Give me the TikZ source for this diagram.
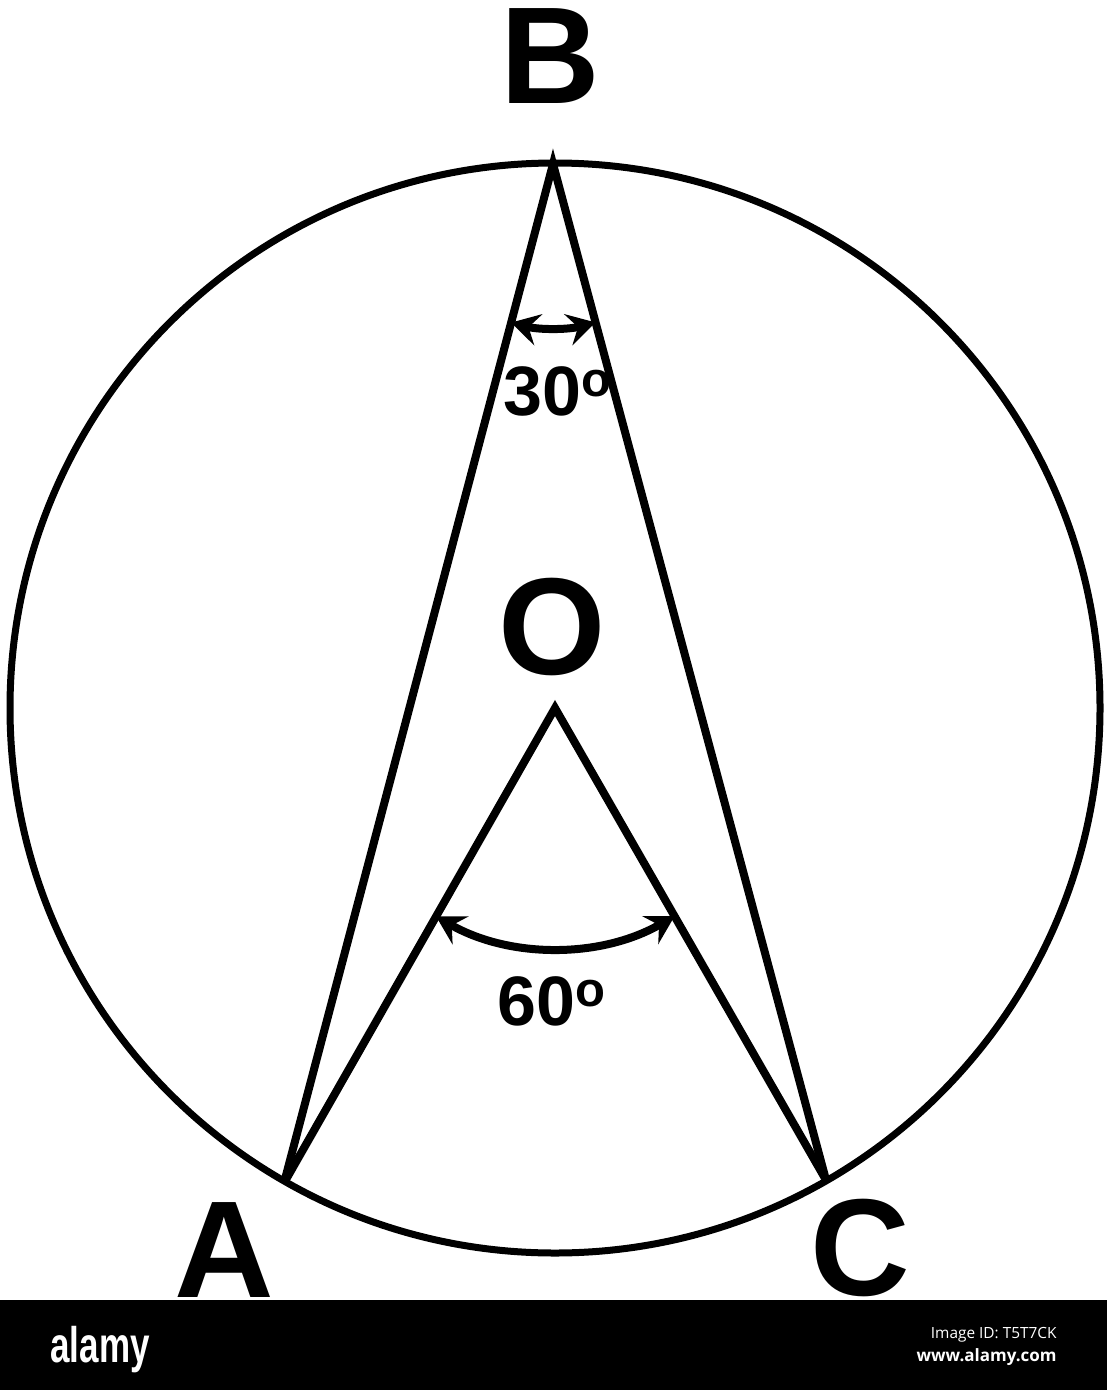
\documentclass[tikz,border=0pt]{standalone}
\usepackage{fontspec}
\setmainfont{Liberation Sans}
\newfontfamily\barfont{Open Sans}
\usetikzlibrary{arrows.meta}

\newlength{\du}
\setlength{\du}{0.5pt}

\tikzset{
  rim/.style={line width=7\du},
  chord/.style={line width=8\du, miter limit=10},
  anglearrow/.style={line width=8\du,
    {Stealth[length=14pt,width=16pt,inset=5pt]}-{Stealth[length=14pt,width=16pt,inset=5pt]}},
  ptlabel/.style={font=\bfseries\fontsize{69}{69}\selectfont, inner sep=0pt, anchor=base},
  deglabel/.style={font=\bfseries\fontsize{35}{35}\selectfont, inner sep=0pt, anchor=base},
}

\begin{document}
\begin{tikzpicture}
\pgftransformxscale{1.000000}
\pgftransformyscale{-1.000000}
\useasboundingbox (0\du,0\du) rectangle (1107\du,1390\du);
% points on the circle
\coordinate (ctr) at (555\du,708\du);
\coordinate (B) at (553\du,164\du);
\coordinate (A) at (284\du,1183\du);
\coordinate (C) at (826\du,1180\du);
\coordinate (O) at (555\du,708\du);
\draw[rim] (ctr) circle[radius=545\du];
\draw[chord] (A)--(B)--(C);
\draw[chord] (A)--(O)--(C);
% angle marks
\draw[anglearrow] (B) ++(104.8:164\du) arc[start angle=104.8, end angle=75.0, radius=164\du];
\draw[anglearrow] (O) ++(119.7:240\du) arc[start angle=119.7, end angle=60.1, radius=240\du];
\node[deglabel] (deg30) at (558\du,415\du){30\textsuperscript{o}};
\node[deglabel] (deg60) at (552\du,1025\du){60\textsuperscript{o}};
% letters
\node[ptlabel] (labB) at (550\du,104\du){B};
\node[ptlabel] (labO) at (552\du,674\du){O};
\node[ptlabel] (labA) at (224\du,1297\du){A};
\node[ptlabel] (labC) at (860\du,1295\du){C};
% stock bar
\fill[black] (0\du,1300\du) rectangle (1107\du,1390\du);
\node[anchor=base west, inner sep=0pt, text=white] (logo) at (50\du,1362\du)
  {\scalebox{0.7}[1]{\bfseries\fontsize{25}{25}\selectfont alamy}};
\node[anchor=base east, inner sep=0pt, text=white] (imgid) at (1057\du,1338\du)
  {\barfont\fontsize{7.7}{8}\selectfont Image ID: T5T7CK};
\node[anchor=base east, inner sep=0pt, text=white] (site) at (1057\du,1361\du)
  {\barfont\bfseries\fontsize{8.5}{9}\selectfont www.alamy.com};
\end{tikzpicture}
\end{document}
